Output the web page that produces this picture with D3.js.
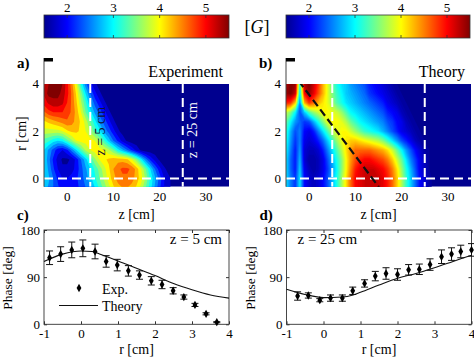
<!DOCTYPE html>
<html>
<head>
<meta charset="utf-8">
<script src="https://cdn.jsdelivr.net/npm/d3@7"></script>
<style>
  body { margin: 0; background: #fff; }
  svg text { font-family: "Liberation Serif", "DejaVu Serif", serif; }
</style>
</head>
<body>
<div id="chart"></div>
<script>
// ---- data ----

// field maps: one row per r value, one column per z value [G]
var zGrid = [-5,-4,-3,-2,-1,0,1,2,3,4,5,6,7,8,9,10,11,12,13,14,15,16,17,18,19,20,21,22,23,24,25,26,27];
var rGrid = [4.0,3.6,3.2,2.8,2.4,2.0,1.6,1.2,0.8,0.4,0.0,-0.4];

var expRows = [
  [5.1,5.4,5.5,5.5,5.4,5.0,4.5,3.9,3.1,2.5,2.0, 1.7,1.55,1.5,1.5,1.5,1.5,1.5,1.5,1.5,1.5,1.5, 1.5,1.5,1.5,1.5,1.5,1.5,1.5,1.5,1.5,1.5,1.5],
  [5.2,5.5,5.5,5.5,5.3,5.0,4.6,4.1,3.5,2.9,2.4, 2.0,1.7,1.55,1.5,1.5,1.5,1.5,1.5,1.5,1.5,1.5, 1.5,1.5,1.5,1.5,1.5,1.5,1.5,1.5,1.5,1.5,1.5],
  [5.0,5.2,5.3,5.3,5.2,4.9,4.6,4.2,3.7,3.2,2.7, 2.3,2.0,1.7,1.55,1.5,1.5,1.5,1.5,1.5,1.5,1.5, 1.5,1.5,1.5,1.5,1.5,1.5,1.5,1.5,1.5,1.5,1.5],
  [4.6,4.8,4.9,4.9,4.9,4.8,4.6,4.3,3.9,3.4,3.0, 2.6,2.3,2.0,1.7,1.55,1.5,1.5,1.5,1.5,1.5,1.5, 1.5,1.5,1.5,1.5,1.5,1.5,1.5,1.5,1.5,1.5,1.5],
  [4.1,4.2,4.3,4.4,4.5,4.6,4.5,4.3,4.1,3.8,3.4, 3.0,2.6,2.3,2.0,1.7,1.55,1.5,1.5,1.5,1.5,1.5, 1.5,1.5,1.5,1.5,1.5,1.5,1.5,1.5,1.5,1.5,1.5],
  [3.8,3.8,3.8,3.8,3.9,4.1,4.2,4.2,4.1,3.9,3.6, 3.3,3.0,2.6,2.3,2.0,1.7,1.55,1.5,1.5,1.5,1.5, 1.5,1.5,1.5,1.5,1.5,1.5,1.5,1.5,1.5,1.5,1.5],
  [3.3,3.2,3.0,2.9,3.0,3.3,3.6,3.9,4.0,4.0,4.0, 3.9,3.6,3.2,2.8,2.4,2.1,1.8,1.6,1.5,1.5,1.5, 1.5,1.5,1.5,1.5,1.5,1.5,1.5,1.5,1.5,1.5,1.5],
  [2.9,2.6,2.3,2.0,1.9,2.1,2.5,2.9,3.3,3.7,3.9, 4.0,4.0,3.9,3.7,3.4,3.0,2.7,2.4,2.1,1.8,1.6, 1.5,1.5,1.5,1.5,1.5,1.5,1.5,1.5,1.5,1.5,1.5],
  [2.9,2.5,2.1,1.8,1.6,1.6,1.7,2.0,2.4,2.8,3.2, 3.6,3.9,4.1,4.2,4.3,4.3,4.3,4.2,3.9,3.5,3.0, 2.5,2.1,1.8,1.6,1.5,1.5,1.5,1.5,1.5,1.5,1.5],
  [2.9,2.6,2.2,1.9,1.7,1.7,1.8,2.0,2.3,2.6,2.9, 3.2,3.5,3.8,4.1,4.4,4.6,4.7,4.7,4.6,4.3,3.9, 3.4,2.9,2.4,2.0,1.7,1.55,1.5,1.5,1.5,1.5,1.5],
  [2.9,2.7,2.4,2.1,1.9,1.9,2.0,2.1,2.3,2.5,2.8, 3.1,3.4,3.7,4.0,4.3,4.5,4.6,4.6,4.5,4.3,4.0, 3.6,3.1,2.7,2.3,1.9,1.7,1.55,1.5,1.5,1.5,1.5],
  [2.8,2.6,2.4,2.2,2.0,2.0,2.0,2.1,2.2,2.4,2.6, 2.9,3.2,3.5,3.8,4.1,4.3,4.4,4.4,4.3,4.1,3.8, 3.4,3.0,2.6,2.2,1.9,1.7,1.55,1.5,1.5,1.5,1.5]
];

var theoryRows = [
  [5.3,5.5,5.4,3.0,5.3,5.5,5.2,4.8,4.3,3.9,3.4, 3.1,2.9,2.8,2.6,2.5,2.4,2.3,2.1,2.0,1.9,1.8, 1.7,1.6,1.55,1.5,1.5,1.5,1.5,1.5,1.5,1.5,1.5],
  [5.4,5.5,5.2,2.8,5.0,5.4,5.1,4.7,4.3,3.9,3.5, 3.2,3.0,2.8,2.7,2.6,2.5,2.4,2.2,2.1,2.0,1.9, 1.8,1.7,1.6,1.55,1.5,1.5,1.5,1.5,1.5,1.5,1.5],
  [4.9,4.8,4.2,2.5,4.3,4.8,4.6,4.3,4.1,3.9,3.6, 3.3,3.1,2.9,2.8,2.7,2.6,2.5,2.4,2.3,2.2,2.1, 1.9,1.8,1.7,1.6,1.55,1.5,1.5,1.5,1.5,1.5,1.5],
  [3.8,3.5,3.0,2.3,2.8,3.3,3.6,3.8,4.0,4.0,3.9, 3.8,3.6,3.3,3.0,2.9,2.8,2.7,2.6,2.5,2.4,2.3, 2.1,2.0,1.9,1.7,1.6,1.55,1.5,1.5,1.5,1.5,1.5],
  [3.4,3.0,2.6,2.4,2.2,2.3,2.7,3.1,3.5,3.9,4.0, 4.0,3.9,3.7,3.4,3.2,3.0,2.9,2.8,2.7,2.6,2.5, 2.3,2.2,2.0,1.9,1.7,1.6,1.55,1.5,1.5,1.5,1.5],
  [3.2,2.7,2.3,2.5,2.0,1.9,2.1,2.5,2.9,3.3,3.7, 3.9,4.0,4.0,3.8,3.6,3.4,3.2,3.1,3.0,2.9,2.7, 2.5,2.3,2.1,1.9,1.8,1.7,1.6,1.55,1.5,1.5,1.5],
  [3.1,2.6,2.2,2.5,1.9,1.8,1.9,2.1,2.4,2.8,3.2, 3.6,3.9,4.1,4.2,4.2,4.1,4.0,3.9,3.8,3.7,3.5, 3.2,2.9,2.6,2.3,2.1,1.9,1.7,1.6,1.55,1.5,1.5],
  [3.0,2.5,2.1,2.6,1.8,1.7,1.7,1.8,2.1,2.5,2.9, 3.3,3.7,4.1,4.4,4.6,4.6,4.6,4.6,4.5,4.4,4.3, 4.1,3.8,3.4,3.0,2.6,2.3,2.0,1.8,1.6,1.55,1.5],
  [2.9,2.4,2.1,2.7,1.8,1.6,1.6,1.7,1.9,2.3,2.7, 3.1,3.5,4.0,4.4,4.7,4.9,5.0,5.0,4.9,4.8,4.7, 4.5,4.2,3.8,3.4,2.9,2.5,2.2,1.9,1.7,1.55,1.5],
  [2.9,2.4,2.1,2.8,1.9,1.7,1.6,1.7,1.9,2.2,2.6, 3.0,3.5,4.0,4.5,4.9,5.1,5.2,5.2,5.2,5.1,5.0, 4.8,4.5,4.1,3.6,3.1,2.7,2.3,1.9,1.7,1.55,1.5],
  [2.9,2.5,2.2,2.9,2.0,1.8,1.7,1.8,2.0,2.3,2.7, 3.1,3.6,4.1,4.6,5.0,5.1,5.2,5.2,5.2,5.2,5.1, 4.9,4.6,4.2,3.7,3.2,2.8,2.4,2.0,1.8,1.6,1.5],
  [2.9,2.5,2.2,2.9,2.0,1.8,1.7,1.8,2.0,2.3,2.7, 3.1,3.6,4.1,4.6,5.0,5.1,5.2,5.2,5.2,5.2,5.1, 4.9,4.6,4.2,3.7,3.2,2.8,2.4,2.0,1.8,1.6,1.5]
];

// ticks and markers
var colorTicks = [2, 3, 4, 5];
var zTicks = [0, 10, 20, 30];
var rTicks = [0, 2, 4];
var cutZ = [5, 25];              // dashed cuts
var cutR = [0];
var fitLine = [[-2.3, 4.14], [15.1, -0.37]];   // black dashed line in b)
var rPhaseTicks = [-1, 0, 1, 2, 3, 4];
var phaseTicks = [0, 90, 180];

// phase at z = 5 cm
var expR5 = [-0.85,-0.55,-0.25,0.05,0.38,0.68,0.98,1.28,1.58,1.9,2.19,2.49,2.78,3.08,3.38,3.67];
var expPhase5 = [127,134,142,145,139,120,113,102,94,83,76,64,52,37,20,4];
var expErr5 = [13,14,15,16,14,11,11,10,8,8,8,6,4,3,2,1];
var thR5 = [-1,-0.5,0,0.3,0.5,1,1.5,2,2.5,3,3.5,4];
var thPhase5 = [120,134,140,139,134,121,107,93,78,66,56,50];

// phase at z = 25 cm
var expR25 = [-0.7,-0.41,-0.1,0.19,0.51,0.79,1.11,1.4,1.69,2.0,2.3,2.59,2.88,3.19,3.46,3.71,4.0];
var expPhase25 = [54,55,46,50,50,64,78,92,97,95,104,105,114,129,134,139,142];
var expErr25 = [8,5,3,6,6,7,7,9,11,11,10,10,11,13,12,12,12];
var thR25 = [-1,-0.5,0,0.5,0.8,1,1.5,2,2.5,3,3.5,4];
var thPhase25 = [67,57,51,52,56,61,75,88,97,108,120,132];

// ---- drawing ----
var W = 474, H = 361;
var svg = d3.select("#chart").append("svg")
  .attr("width", W)
  .attr("height", H);
svg.append("rect").attr("width", W).attr("height", H).attr("fill", "#fff");

// jet colour map over 1.5 .. 5.5
var jet = d3.scaleLinear()
  .domain([1.5, 2, 3, 4, 5, 5.5])
  .range(["#00008f", "#0000ff", "#00ffff", "#ffff00", "#ff0000", "#800000"])
  .clamp(true);

var defs = svg.append("defs");
var grad = defs.append("linearGradient").attr("id", "jetGrad");
grad.selectAll("stop").data(jet.domain()).join("stop")
  .attr("offset", function(d) { return (d - 1.5) / 4; })
  .attr("stop-color", function(d) { return jet(d); });

function drawColorbar(x0, x1) {
  var s = d3.scaleLinear().domain([1.5, 5.5]).range([x0, x1]);
  var g = svg.append("g");
  g.append("rect")
    .attr("x", x0).attr("y", 15)
    .attr("width", x1 - x0).attr("height", 23)
    .attr("fill", "url(#jetGrad)")
    .attr("stroke", "#333").attr("stroke-width", 0.8);
  g.selectAll("line.t").data(colorTicks).join("line")
    .attr("x1", s).attr("x2", s)
    .attr("y1", 35).attr("y2", 38)
    .attr("stroke", "#333").attr("stroke-width", 0.8);
  g.selectAll("line.u").data(colorTicks).join("line")
    .attr("x1", s).attr("x2", s)
    .attr("y1", 15).attr("y2", 18)
    .attr("stroke", "#333").attr("stroke-width", 0.8);
  g.selectAll("text").data(colorTicks).join("text")
    .attr("x", s).attr("y", 12)
    .attr("text-anchor", "middle")
    .attr("font-size", 13)
    .text(function(d) { return d; });
}

drawColorbar(44, 229);
drawColorbar(286, 470);

var unit = svg.append("text")
  .attr("x", 257).attr("y", 33)
  .attr("text-anchor", "middle")
  .attr("font-size", 18);
unit.append("tspan").text("[");
unit.append("tspan").attr("font-style", "italic").text("G");
unit.append("tspan").text("]");

function drawMap(o) {
  var zScale = d3.scaleLinear().domain([-5, 35]).range([o.x0, o.x1]);
  var rScale = d3.scaleLinear().domain([-0.35, 5.1]).range([186.7, 58]);
  var g = svg.append("g");

  var top = rScale(4), bottom = rScale(-0.35);
  defs.append("clipPath").attr("id", o.id)
    .append("rect")
    .attr("x", o.x0).attr("y", top)
    .attr("width", o.x1 - o.x0).attr("height", bottom - top);

  var img = g.append("g").attr("clip-path", "url(#" + o.id + ")");
  img.append("rect")
    .attr("x", o.x0).attr("y", top)
    .attr("width", o.x1 - o.x0).attr("height", bottom - top)
    .attr("fill", jet(1.5));

  // contour bands, grid coords mapped back through the axis scales
  var dz = zGrid[1] - zGrid[0], dr = rGrid[0] - rGrid[1];
  var proj = d3.geoTransform({
    point: function(x, y) {
      this.stream.point(zScale(zGrid[0] + (x - 0.5) * dz), rScale(rGrid[0] - (y - 0.5) * dr));
    }
  });
  var path = d3.geoPath(proj);
  var values = [].concat.apply([], o.rows);
  var bands = d3.contours().size([zGrid.length, rGrid.length]).thresholds(o.levels)(values);
  img.selectAll("path.band").data(bands).join("path")
    .attr("class", "band")
    .attr("d", path)
    .attr("fill", function(d) { return jet(d.value + o.step / 2); });

  // white dashed cuts
  img.selectAll("line.cz").data(cutZ).join("line")
    .attr("x1", zScale).attr("x2", zScale)
    .attr("y1", top).attr("y2", bottom)
    .attr("stroke", "#fff").attr("stroke-width", 2)
    .attr("stroke-dasharray", "9,5");
  img.selectAll("line.cr").data(cutR).join("line")
    .attr("x1", o.x0).attr("x2", o.x1)
    .attr("y1", rScale).attr("y2", rScale)
    .attr("stroke", "#fff").attr("stroke-width", 2)
    .attr("stroke-dasharray", "9,5");

  if (o.fit) {
    img.append("path")
      .attr("d", d3.line().x(function(d) { return zScale(d[0]); }).y(function(d) { return rScale(d[1]); })(fitLine))
      .attr("stroke", "#111").attr("stroke-width", 2.2)
      .attr("stroke-dasharray", "8,4").attr("fill", "none");
  }

  // axes
  g.append("line")
    .attr("x1", o.x0).attr("x2", o.x0)
    .attr("y1", 58).attr("y2", bottom)
    .attr("stroke", "#444").attr("stroke-width", 1);
  g.append("rect")
    .attr("x", o.x0).attr("y", 58)
    .attr("width", 9).attr("height", 3.5)
    .attr("fill", "#000");

  g.selectAll("text.rt").data(rTicks).join("text")
    .attr("x", o.x0 - 5).attr("y", function(d) { return rScale(d) + 4.5; })
    .attr("text-anchor", "end").attr("font-size", 13)
    .text(function(d) { return d; });
  g.selectAll("text.zt").data(zTicks).join("text")
    .attr("x", zScale).attr("y", 201)
    .attr("text-anchor", "middle").attr("font-size", 13)
    .text(function(d) { return d; });

  g.append("text")
    .attr("x", (o.x0 + o.x1) / 2).attr("y", 219)
    .attr("text-anchor", "middle").attr("font-size", 14)
    .text("z [cm]");

  if (o.ylabel) {
    g.append("text")
      .attr("transform", "translate(" + (o.x0 - 18) + "," + rScale(1.9) + ") rotate(-90)")
      .attr("text-anchor", "middle").attr("font-size", 14)
      .text("r [cm]");
  }

  g.append("text")
    .attr("x", o.x0 - 27).attr("y", 68)
    .attr("font-size", 15).attr("font-weight", "bold")
    .text(o.tag);
  g.append("text")
    .attr("x", o.x1 - 6).attr("y", 77)
    .attr("text-anchor", "end").attr("font-size", 16)
    .text(o.title);

  if (o.cutLabels) {
    g.append("text")
      .attr("transform", "translate(" + (zScale(5) + 15) + "," + rScale(2) + ") rotate(-90)")
      .attr("text-anchor", "middle").attr("font-size", 14)
      .attr("fill", "#101030")
      .text("z = 5 cm");
    g.append("text")
      .attr("transform", "translate(" + (zScale(25) + 14) + "," + rScale(2.05) + ") rotate(-90)")
      .attr("text-anchor", "middle").attr("font-size", 14)
      .attr("fill", "#fff")
      .text("z = 25 cm");
  }
}

drawMap({ id: "clipA", x0: 44, x1: 229, rows: expRows, levels: d3.range(1.65, 5.6, 0.25), step: 0.25,
  tag: "a)", title: "Experiment", ylabel: true, cutLabels: true, fit: false });
drawMap({ id: "clipB", x0: 286, x1: 471, rows: theoryRows, levels: d3.range(1.55, 5.6, 0.05), step: 0.05,
  tag: "b)", title: "Theory", ylabel: false, cutLabels: false, fit: true });

function drawPhase(o) {
  var x = d3.scaleLinear().domain([-1, 4]).range([o.x0, o.x1]);
  var y = d3.scaleLinear().domain([0, 180]).range([324.3, 230]);
  var g = svg.append("g");

  function style(a) {
    a.attr("font-family", "Liberation Serif").attr("font-size", 13);
    a.select(".domain").remove();
    a.selectAll(".tick line").attr("stroke", "#333");
  }

  g.append("g").attr("transform", "translate(0,324.3)")
    .call(d3.axisBottom(x).tickValues(rPhaseTicks).tickSize(-3).tickPadding(4.5)
      .tickFormat(function(d) { return String(d); }))
    .call(style);
  g.append("g").attr("transform", "translate(0,230)")
    .call(d3.axisTop(x).tickValues(rPhaseTicks).tickSize(-3).tickFormat(""))
    .call(style);
  g.append("g").attr("transform", "translate(" + o.x0 + ",0)")
    .call(d3.axisLeft(y).tickValues(phaseTicks).tickSize(-3).tickPadding(4))
    .call(style);
  g.append("g").attr("transform", "translate(" + o.x1 + ",0)")
    .call(d3.axisRight(y).tickValues(phaseTicks).tickSize(-3).tickFormat(""))
    .call(style);

  g.append("rect")
    .attr("x", o.x0).attr("y", 230)
    .attr("width", o.x1 - o.x0).attr("height", 94.3)
    .attr("fill", "none").attr("stroke", "#333").attr("stroke-width", 0.9);

  // theory curve
  var line = d3.line()
    .x(function(d) { return x(d[0]); })
    .y(function(d) { return y(d[1]); })
    .curve(d3.curveMonotoneX);
  g.append("path")
    .datum(d3.zip(o.thR, o.thPhase))
    .attr("d", line)
    .attr("fill", "none").attr("stroke", "#111").attr("stroke-width", 1.1);

  // experiment with error bars
  var pts = o.expR.map(function(r, i) { return { r: r, p: o.expPhase[i], e: o.expErr[i] }; });
  var eb = g.selectAll("g.eb").data(pts).join("g").attr("class", "eb");
  eb.append("line")
    .attr("x1", function(d) { return x(d.r); }).attr("x2", function(d) { return x(d.r); })
    .attr("y1", function(d) { return y(d.p - d.e); }).attr("y2", function(d) { return y(d.p + d.e); })
    .attr("stroke", "#111").attr("stroke-width", 1);
  [-1, 1].forEach(function(sgn) {
    eb.append("line")
      .attr("x1", function(d) { return x(d.r) - 3.5; }).attr("x2", function(d) { return x(d.r) + 3.5; })
      .attr("y1", function(d) { return y(d.p + sgn * d.e); }).attr("y2", function(d) { return y(d.p + sgn * d.e); })
      .attr("stroke", "#111").attr("stroke-width", 1);
  });
  eb.append("path")
    .attr("transform", function(d) { return "translate(" + x(d.r) + "," + y(d.p) + ")"; })
    .attr("d", d3.symbol().type(d3.symbolDiamond).size(20))
    .attr("fill", "#000");

  g.append("text")
    .attr("transform", "translate(" + (o.x0 - 32) + ",278) rotate(-90)")
    .attr("text-anchor", "middle").attr("font-size", 13.5)
    .text("Phase [deg]");
  g.append("text")
    .attr("x", (o.x0 + o.x1) / 2).attr("y", 354)
    .attr("text-anchor", "middle").attr("font-size", 14)
    .text("r [cm]");
  g.append("text")
    .attr("x", o.x0 - 27).attr("y", 220)
    .attr("font-size", 15).attr("font-weight", "bold")
    .text(o.tag);
  g.append("text")
    .attr("x", o.labelLeft ? o.x0 + 11 : o.x1 - 7).attr("y", 244)
    .attr("text-anchor", o.labelLeft ? "start" : "end")
    .attr("font-size", 15)
    .text(o.label);

  if (o.legend) {
    g.append("path")
      .attr("transform", "translate(79,288)")
      .attr("d", d3.symbol().type(d3.symbolDiamond).size(20))
      .attr("fill", "#000");
    g.append("text").attr("x", 102).attr("y", 294).attr("font-size", 14).text("Exp.");
    g.append("line")
      .attr("x1", 59).attr("x2", 98).attr("y1", 305.5).attr("y2", 305.5)
      .attr("stroke", "#111").attr("stroke-width", 1.1);
    g.append("text").attr("x", 102).attr("y", 311).attr("font-size", 14).text("Theory");
  }
}

drawPhase({ x0: 44, x1: 229, expR: expR5, expPhase: expPhase5, expErr: expErr5,
  thR: thR5, thPhase: thPhase5, tag: "c)", label: "z = 5 cm", labelLeft: false, legend: true });
drawPhase({ x0: 286.5, x1: 471.5, expR: expR25, expPhase: expPhase25, expErr: expErr25,
  thR: thR25, thPhase: thPhase25, tag: "d)", label: "z = 25 cm", labelLeft: true, legend: false });
</script>
</body>
</html>
